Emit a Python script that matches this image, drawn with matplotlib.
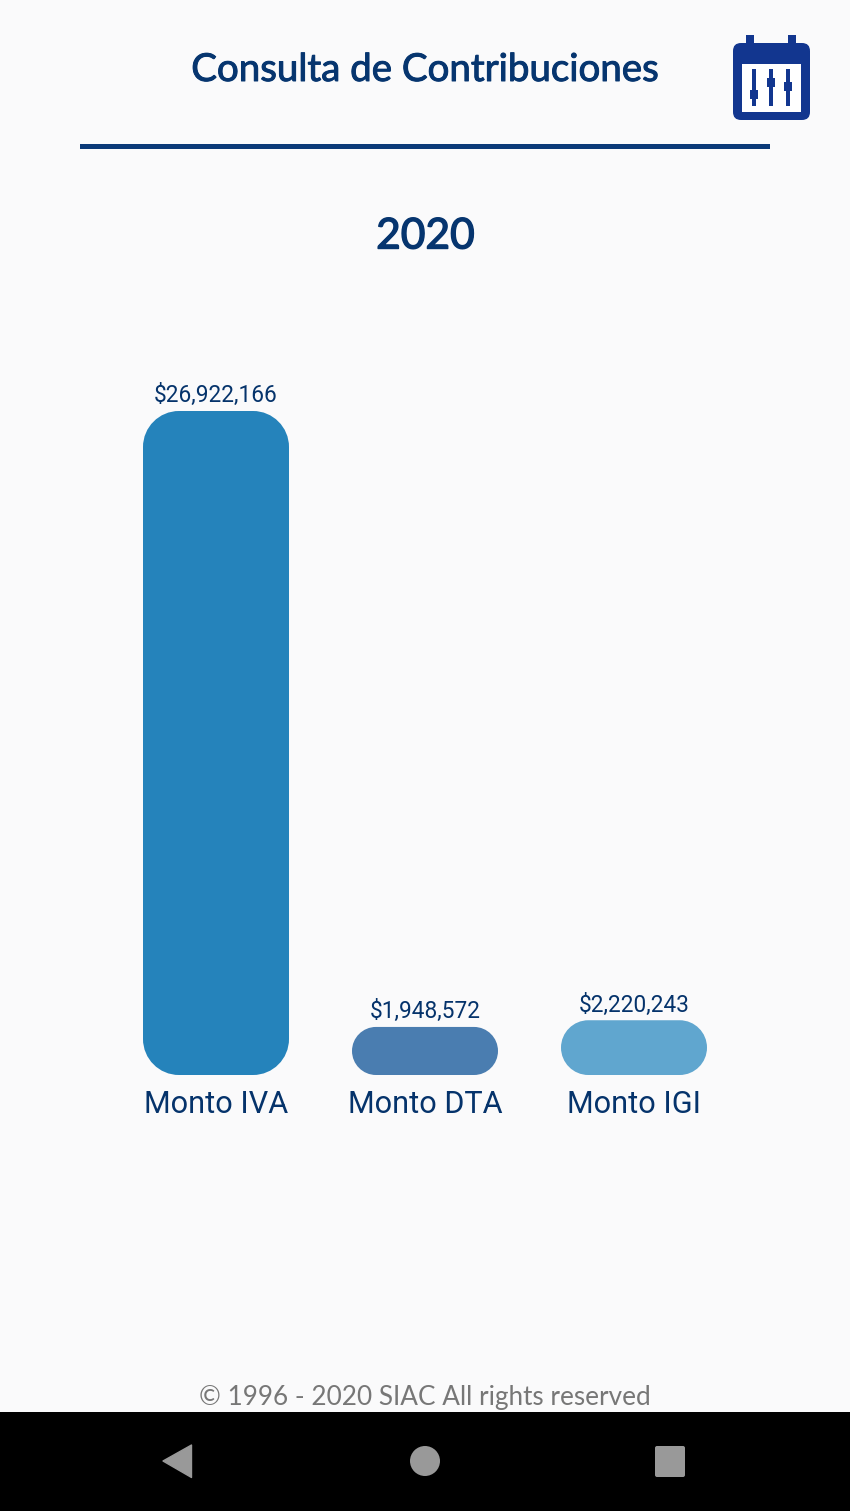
import matplotlib
matplotlib.use("Agg")
import matplotlib.pyplot as plt
import matplotlib.patheffects as pe
from matplotlib.path import Path
from matplotlib.patches import FancyBboxPatch, PathPatch, Rectangle, Polygon, Ellipse

categories = ["Monto IVA", "Monto DTA", "Monto IGI"]
values = [26922166, 1948572, 2220243]
value_labels = ["$26,922,166", "$1,948,572", "$2,220,243"]
bar_colors = ["#2583BB", "#4A7DB0", "#60A6CF"]
year_label = "2020"
title_text = "Consulta de Contribuciones"
footer_text = "© 1996 - 2020 SIAC All rights reserved"

W, H = 850, 1511
BG = "#FAFAFB"
NAVY = "#05336B"

fig = plt.figure(figsize=(W / 100, H / 100), dpi=100, facecolor=BG)

# page furniture, laid out in screen pixels
page = fig.add_axes([0, 0, 1, 1], zorder=0)
page.set_xlim(0, W)
page.set_ylim(H, 0)
page.axis("off")


def medium(width):
    return [pe.withStroke(linewidth=width, foreground="#06356F")]


page.text(425.5, 70, title_text, ha="center", va="center", color="#06356F",
          family="Lato", fontsize=27.7, path_effects=medium(0.7))
page.add_patch(Rectangle((80, 143.5), 690, 5.5, fc="#0B3A78", ec="none"))
page.text(425.5, 236.5, year_label, ha="center", va="center", color="#06356F",
          family="Lato", fontsize=30.6, path_effects=medium(1.0))

# calendar icon
ICON = "#12368F"
page.add_patch(Rectangle((746, 35), 8.5, 10, fc=ICON, ec="none"))
page.add_patch(Rectangle((788, 35), 8.5, 10, fc=ICON, ec="none"))
page.add_patch(FancyBboxPatch((733, 43), 77, 77, boxstyle="round,pad=0,rounding_size=8",
                              fc=ICON, ec="none"))
page.add_patch(Rectangle((742, 64), 59, 48, fc="white", ec="none"))
for sx, ky in zip((754, 771, 788), (90, 78, 82)):
    page.add_patch(Rectangle((sx - 1.9, 69), 3.8, 37, fc=ICON, ec="none"))
    page.add_patch(Rectangle((sx - 4.4, ky), 8.8, 9, fc=ICON, ec="none"))

# footer and navigation bar
page.text(425, 1398, footer_text, ha="center", va="center", color="#777777",
          family="Lato", fontsize=18.85)
page.add_patch(Rectangle((0, 1412), W, 99, fc="black", ec="none"))
GREY = "#999999"
page.add_patch(Polygon([(163, 1461), (191.5, 1445), (191.5, 1477.5)], closed=True, fc=GREY,
                       ec=GREY, lw=1, joinstyle="round"))
page.add_patch(Ellipse((425, 1461), 30, 30, fc=GREY, ec="none"))
page.add_patch(FancyBboxPatch((655, 1446), 30, 31, boxstyle="round,pad=0,rounding_size=2",
                              fc=GREY, ec="none"))

# bar chart: 209 px per category, baseline at y=1075 px, largest bar reaches y=411 px
left, right, bottom, top = 111.5, 738.5, 1075, 350
ax = fig.add_axes([left / W, 1 - bottom / H, (right - left) / W, (bottom - top) / H], zorder=1)
ax.patch.set_alpha(0)
ax.set_xlim(-0.5, 2.5)
ax.set_ylim(0, max(values) * (bottom - top) / (bottom - 411))
x_per_px = 3 / (right - left)
y_per_px = ax.get_ylim()[1] / (bottom - top)
bar_w = 146 * x_per_px
CORNER_PX = 36
K = 0.5523


def rounded_bar(center, height, color):
    """Bar from 0 to height whose corners are circular on screen."""
    r_px = min(CORNER_PX, height / y_per_px / 2)
    rx, ry = r_px * x_per_px, r_px * y_per_px
    x0, x1 = center - bar_w / 2, center + bar_w / 2
    cx, cy = rx * (1 - K), ry * (1 - K)
    verts = [(x0 + rx, 0), (x1 - rx, 0),
             (x1 - cx, 0), (x1, cy), (x1, ry),
             (x1, height - ry),
             (x1, height - cy), (x1 - cx, height), (x1 - rx, height),
             (x0 + rx, height),
             (x0 + cx, height), (x0, height - cy), (x0, height - ry),
             (x0, ry),
             (x0, cy), (x0 + cx, 0), (x0 + rx, 0)]
    codes = [Path.MOVETO, Path.LINETO,
             Path.CURVE4, Path.CURVE4, Path.CURVE4,
             Path.LINETO,
             Path.CURVE4, Path.CURVE4, Path.CURVE4,
             Path.LINETO,
             Path.CURVE4, Path.CURVE4, Path.CURVE4,
             Path.LINETO,
             Path.CURVE4, Path.CURVE4, Path.CURVE4]
    ax.add_patch(PathPatch(Path(verts, codes), fc=color, ec="none"))


for i, (v, c, lab) in enumerate(zip(values, bar_colors, value_labels)):
    rounded_bar(i, v, c)
    ax.annotate(lab, (i, v), xytext=(0, 6.2), textcoords="offset points", ha="center",
                va="baseline", color=NAVY, family="Roboto", fontsize=16.3)
ax.set_xticks(range(len(categories)), categories)
ax.set_yticks([])
ax.tick_params(axis="x", length=0, pad=11, labelsize=22.1, labelcolor=NAVY)
for t in ax.get_xticklabels():
    t.set_family("Roboto")
for s in ax.spines.values():
    s.set_visible(False)

fig.savefig("out.png", dpi=100, facecolor=BG)
